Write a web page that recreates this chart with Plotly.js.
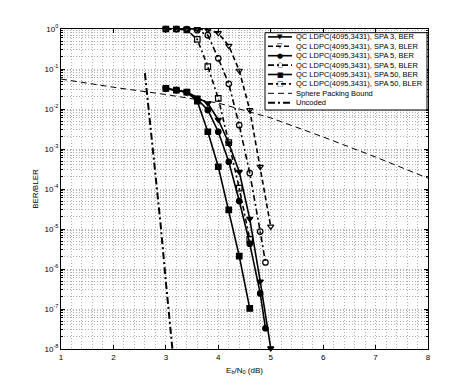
<!DOCTYPE html>
<html><head><meta charset="utf-8">
<script src="https://cdn.plot.ly/plotly-3.0.1.min.js"></script>
<style>html,body{margin:0;padding:0;background:#fff}#chart{width:474px;height:392px}</style>
</head><body><div id="chart"></div>
<script>
// ---------- data ----------
const ebn0Spa3  = [3.0, 3.2, 3.4, 3.6, 3.8, 4.0, 4.2, 4.4, 4.6, 4.8, 5.0];
const ebn0Spa5  = [3.0, 3.2, 3.4, 3.6, 3.8, 4.0, 4.2, 4.4, 4.6, 4.8, 4.9];
const ebn0Spa50 = [3.0, 3.2, 3.4, 3.6, 3.8, 4.0, 4.2, 4.4, 4.6];

const spa3Ber   = [0.0327, 0.0298, 0.0264, 0.0194, 0.0139, 5.4e-3, 1.39e-3, 2.7e-4, 1.8e-5, 4.9e-7, 1.05e-8];
const spa3Bler  = [1, 1, 1, 1, 0.95, 0.79, 0.38, 0.091, 9.5e-3, 3.6e-4, 1.15e-5];
const spa5Ber   = [0.0327, 0.0298, 0.0264, 0.0177, 9.5e-3, 2.7e-3, 4.8e-4, 5.0e-5, 4.3e-6, 2.45e-7, 3.3e-8];
const spa5Bler  = [1, 1, 1, 0.93, 0.70, 0.185, 0.0425, 3.95e-3, 2.5e-4, 8.6e-6, 1.46e-6];
const spa50Ber  = [0.0327, 0.0298, 0.0264, 0.0157, 2.7e-3, 3.6e-4, 3.0e-5, 2.1e-6, 1.04e-7];
const spa50Bler = [1, 1, 0.95, 0.55, 0.115, 0.0185, 1.45e-3, 1.05e-4, 5.5e-6];

const ebn0Spb   = [1, 2, 3, 4, 5, 6, 7, 8];
const spbValues = [0.056, 0.035, 0.023, 0.0141, 6.0e-3, 2.0e-3, 6.3e-4, 1.86e-4];

const ebn0Unc   = [2.6, 2.7, 2.8, 2.9, 3.0, 3.1, 3.125];
const uncValues = [0.079, 4.8e-3, 2.8e-4, 1.3e-5, 4.8e-7, 2.1e-8, 1e-8];

const seriesNames = [
  'QC LDPC(4095,3431), SPA 3, BER',
  'QC LDPC(4095,3431), SPA 3, BLER',
  'QC LDPC(4095,3431), SPA 5, BER',
  'QC LDPC(4095,3431), SPA 5, BLER',
  'QC LDPC(4095,3431), SPA 50, BER',
  'QC LDPC(4095,3431), SPA 50, BLER',
  'Sphere Packing Bound',
  'Uncoded'
];

const xTickVals = [1, 2, 3, 4, 5, 6, 7, 8];
const yTickVals = [1, 1e-1, 1e-2, 1e-3, 1e-4, 1e-5, 1e-6, 1e-7, 1e-8];
const yTickText = ['10<sup>0</sup>', '10<sup>-1</sup>', '10<sup>-2</sup>', '10<sup>-3</sup>',
                   '10<sup>-4</sup>', '10<sup>-5</sup>', '10<sup>-6</sup>', '10<sup>-7</sup>', '10<sup>-8</sup>'];

// ---------- styles ----------
const FONT = 'Liberation Sans, Arial, sans-serif';
const GRID = '#b0b0b0';
const styles = [
  {dash: 'solid',            symbol: 'triangle-down',      glyph: '\u25BC', w: 1.6},
  {dash: '5px,3px',          symbol: 'triangle-down-open', glyph: '\u25BD', w: 1.6},
  {dash: 'solid',            symbol: 'circle',             glyph: '\u25CF', w: 1.6},
  {dash: '6px,3px,2px,3px',  symbol: 'circle-open',        glyph: '\u25CB', w: 1.6},
  {dash: 'solid',            symbol: 'square',             glyph: '\u25A0', w: 1.6},
  {dash: '5px,3px,2px,3px',  symbol: 'square-open',        glyph: '\u25A1', w: 1.6},
  {dash: '6px,4px',          symbol: null,                 glyph: '',       w: 1.0},
  {dash: '7px,3px,2px,3px',  symbol: null,                 glyph: '',       w: 2.0}
];
const seriesX = [ebn0Spa3, ebn0Spa3, ebn0Spa5, ebn0Spa5, ebn0Spa50, ebn0Spa50, ebn0Spb, ebn0Unc];
const seriesY = [spa3Ber, spa3Bler, spa5Ber, spa5Bler, spa50Ber, spa50Bler, spbValues, uncValues];

const order = [6, 7, 0, 1, 2, 3, 4, 5];
const traces = order.map(i => {
  const s = styles[i];
  const t = {
    type: 'scatter', x: seriesX[i], y: seriesY[i], name: seriesNames[i],
    mode: s.symbol ? 'lines+markers' : 'lines', cliponaxis: false, showlegend: false,
    line: {color: 'black', width: s.w, dash: s.dash}
  };
  if (s.symbol) t.marker = {symbol: s.symbol, size: 5.5, color: 'black', line: {color: 'black', width: 1.2}};
  return t;
});

// minor grid positions on the log axis
const yMinor = [];
for (let e = -8; e < 0; e++) for (let d = 2; d <= 9; d++) yMinor.push(d * Math.pow(10, e));

// ---------- plot geometry (pixels) ----------
const L = 61, R = 428, T = 29, B = 349;
const px = v => (v - L) / (R - L);
const py = v => (B - v) / (B - T);

// compact legend (MATLAB style)
const shapes = [{type: 'rect', xref: 'paper', yref: 'paper', x0: px(265), x1: px(427), y0: py(110), y1: py(32.7),
                 fillcolor: 'white', line: {color: 'black', width: 1}, layer: 'above'}];
const annotations = [];
seriesNames.forEach((name, i) => {
  const yy = 36.9 + i * 9.4;
  const s = styles[i];
  shapes.push({type: 'line', xref: 'paper', yref: 'paper', x0: px(268), x1: px(292), y0: py(yy), y1: py(yy),
               line: {color: 'black', width: s.w, dash: s.dash}, layer: 'above'});
  if (s.glyph) annotations.push({xref: 'paper', yref: 'paper', x: px(280), y: py(yy), text: s.glyph,
               showarrow: false, xanchor: 'center', yanchor: 'middle', borderpad: 0,
               font: {family: 'DejaVu Sans', size: 7, color: 'black'}});
  annotations.push({xref: 'paper', yref: 'paper', x: px(295), y: py(yy), text: name, showarrow: false,
               xanchor: 'left', yanchor: 'middle', borderpad: 0, font: {family: FONT, size: 7.5, color: 'black'}});
});

const layout = {
  width: 474, height: 392,
  margin: {l: L, r: 474 - R, t: T, b: 392 - B},
  paper_bgcolor: 'white', plot_bgcolor: 'white',
  showlegend: false,
  font: {family: FONT, size: 8, color: 'black'},
  xaxis: {
    range: [1, 8], tickmode: 'array', tickvals: xTickVals, ticks: 'inside', ticklen: 4, tickcolor: 'black',
    showline: true, linecolor: 'black', linewidth: 1, mirror: 'ticks', zeroline: false,
    showgrid: true, gridcolor: GRID, griddash: '1px,2px', gridwidth: 1,
    minor: {dtick: 0.2, showgrid: true, gridcolor: GRID, griddash: '1px,2px', gridwidth: 1},
    tickfont: {family: FONT, size: 8, color: 'black'},
    title: {text: 'E<sub>b</sub>/N<sub>0</sub> (dB)', font: {family: FONT, size: 8, color: 'black'}, standoff: 6}
  },
  yaxis: {
    type: 'log', range: [-8, 0], tickmode: 'array', tickvals: yTickVals, ticktext: yTickText,
    ticks: 'inside', ticklen: 4, tickcolor: 'black',
    showline: true, linecolor: 'black', linewidth: 1, mirror: 'ticks', zeroline: false,
    showgrid: true, gridcolor: GRID, griddash: '1px,2px', gridwidth: 1,
    minor: {tickmode: 'array', tickvals: yMinor, showgrid: true, gridcolor: GRID, griddash: '1px,2px', gridwidth: 1,
            ticks: 'inside', ticklen: 2, tickcolor: 'black'},
    tickfont: {family: FONT, size: 8, color: 'black'},
    title: {text: 'BER/BLER', font: {family: FONT, size: 8, color: 'black'}, standoff: 4}
  },
  shapes: shapes,
  annotations: annotations
};

Plotly.newPlot('chart', traces, layout, {displayModeBar: false, staticPlot: true});
</script>
</body></html>
